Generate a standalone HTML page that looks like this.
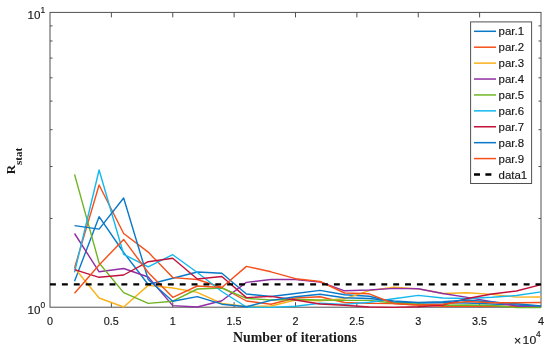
<!DOCTYPE html>
<html><head><meta charset="utf-8"><title>Rstat</title>
<style>html,body{margin:0;padding:0;background:#fff}svg{display:block}text{font-family:"Liberation Sans",Arial,sans-serif;fill:#161616;stroke:#161616;stroke-width:0.15px}.s{font-family:"Liberation Serif","Times New Roman",serif;font-weight:bold;fill:#1a1a1a;stroke:none}</style></head><body>
<svg width="550" height="353" viewBox="0 0 550 353">
<rect width="550" height="353" fill="#fff"/>
<g stroke="#505050" stroke-width="1" fill="none">
<rect x="50.0" y="12.4" width="491.0" height="294.8"/>
<path d="M111.38 307.2 v-5 M111.38 12.4 v5"/>
<path d="M172.75 307.2 v-5 M172.75 12.4 v5"/>
<path d="M234.12 307.2 v-5 M234.12 12.4 v5"/>
<path d="M295.50 307.2 v-5 M295.50 12.4 v5"/>
<path d="M356.88 307.2 v-5 M356.88 12.4 v5"/>
<path d="M418.25 307.2 v-5 M418.25 12.4 v5"/>
<path d="M479.62 307.2 v-5 M479.62 12.4 v5"/>
<path d="M50.0 218.46 h2.5 M541.0 218.46 h-2.5"/>
<path d="M50.0 166.54 h2.5 M541.0 166.54 h-2.5"/>
<path d="M50.0 129.71 h2.5 M541.0 129.71 h-2.5"/>
<path d="M50.0 101.14 h2.5 M541.0 101.14 h-2.5"/>
<path d="M50.0 77.80 h2.5 M541.0 77.80 h-2.5"/>
<path d="M50.0 58.07 h2.5 M541.0 58.07 h-2.5"/>
<path d="M50.0 40.97 h2.5 M541.0 40.97 h-2.5"/>
<path d="M50.0 25.89 h2.5 M541.0 25.89 h-2.5"/>
</g>
<g fill="none" stroke-width="1.4" stroke-linejoin="round" stroke-linecap="butt">
<polyline stroke="#0a78c8" points="74.55,281.2 99.10,216.7 123.65,252.5 148.20,284.5 172.75,278.3 197.30,272.0 221.85,273.3 246.40,294.0 270.95,296.5 295.50,293.5 320.05,290.4 344.60,294.8 369.15,296.3 393.70,302.3 418.25,303.0 442.80,302.8 467.35,303.0 491.90,304.0 516.45,305.0 541.00,306.3"/>
<polyline stroke="#f5501a" points="74.55,268.0 99.10,185.0 123.65,233.5 148.20,252.1 172.75,277.6 197.30,279.5 221.85,287.5 246.40,301.0 270.95,304.3 295.50,298.0 320.05,296.7 344.60,302.5 369.15,303.4 393.70,303.5 418.25,305.0 442.80,306.3 467.35,306.3 491.90,306.0 516.45,306.6 541.00,307.4"/>
<polyline stroke="#fab21a" points="74.55,268.0 99.10,298.0 123.65,307.0 148.20,285.4 172.75,288.0 197.30,292.4 221.85,303.5 246.40,306.5 270.95,306.0 295.50,300.0 320.05,300.7 344.60,298.8 369.15,290.6 393.70,287.3 418.25,288.9 442.80,293.5 467.35,292.7 491.90,294.4 516.45,297.1 541.00,297.0"/>
<polyline stroke="#8f2fa3" points="74.55,233.5 99.10,271.8 123.65,268.5 148.20,277.0 172.75,305.6 197.30,307.0 221.85,300.7 246.40,282.4 270.95,279.5 295.50,279.5 320.05,282.0 344.60,290.8 369.15,290.0 393.70,288.4 418.25,288.7 442.80,293.5 467.35,297.4 491.90,301.8 516.45,306.0 541.00,307.2"/>
<polyline stroke="#6fb424" points="74.55,174.4 99.10,263.0 123.65,292.6 148.20,303.4 172.75,301.2 197.30,289.0 221.85,288.0 246.40,298.4 270.95,300.0 295.50,299.5 320.05,300.0 344.60,300.4 369.15,300.4 393.70,303.0 418.25,304.3 442.80,305.3 467.35,305.0 491.90,305.5 516.45,307.6 541.00,307.5"/>
<polyline stroke="#14b8ee" points="74.55,272.3 99.10,170.0 123.65,254.3 148.20,266.8 172.75,254.7 197.30,272.5 221.85,291.5 246.40,307.0 270.95,307.4 295.50,306.3 320.05,303.3 344.60,304.4 369.15,302.3 393.70,298.8 418.25,295.4 442.80,298.0 467.35,298.5 491.90,297.3 516.45,295.5 541.00,291.9"/>
<polyline stroke="#c2123b" points="74.55,269.6 99.10,277.3 123.65,275.0 148.20,261.7 172.75,258.2 197.30,279.0 221.85,276.5 246.40,297.6 270.95,296.4 295.50,300.0 320.05,304.0 344.60,305.2 369.15,307.0 393.70,307.4 418.25,306.8 442.80,305.0 467.35,298.5 491.90,294.0 516.45,291.0 541.00,284.6"/>
<polyline stroke="#0a78c8" points="74.55,225.6 99.10,229.1 123.65,198.0 148.20,279.5 172.75,301.2 197.30,296.6 221.85,304.2 246.40,306.7 270.95,300.4 295.50,296.7 320.05,294.2 344.60,297.7 369.15,298.5 393.70,301.0 418.25,302.5 442.80,301.8 467.35,300.0 491.90,302.0 516.45,303.8 541.00,306.0"/>
<polyline stroke="#f5501a" points="74.55,293.3 99.10,265.0 123.65,239.4 148.20,272.5 172.75,297.3 197.30,286.0 221.85,287.5 246.40,266.4 270.95,271.8 295.50,278.7 320.05,281.5 344.60,293.0 369.15,293.8 393.70,303.5 418.25,305.0 442.80,304.1 467.35,301.5 491.90,302.8 516.45,302.8 541.00,302.5"/>
</g>
<path d="M50.00 284.3H55.90 M61.90 284.3H67.80 M73.80 284.3H79.70 M85.70 284.3H91.60 M97.60 284.3H103.50 M109.50 284.3H115.40 M121.40 284.3H127.30 M133.30 284.3H139.20 M145.20 284.3H151.10 M156.00 284.3H161.90 M167.86 284.3H173.76 M179.72 284.3H185.62 M191.58 284.3H197.48 M203.44 284.3H209.34 M215.30 284.3H221.20 M227.16 284.3H233.06 M239.02 284.3H244.92 M250.88 284.3H256.78 M262.74 284.3H268.64 M274.60 284.3H280.50 M286.46 284.3H292.36 M298.32 284.3H304.22 M310.18 284.3H316.08 M322.04 284.3H327.94 M333.90 284.3H339.80 M345.76 284.3H351.66 M357.62 284.3H363.52 M369.48 284.3H375.38 M381.34 284.3H387.24 M393.20 284.3H399.10 M405.06 284.3H410.96 M416.92 284.3H422.82 M428.78 284.3H434.68 M440.64 284.3H446.54 M452.50 284.3H458.40 M464.36 284.3H470.26 M476.22 284.3H482.12 M488.08 284.3H493.98 M499.94 284.3H505.84 M511.80 284.3H517.70 M523.66 284.3H529.56 M535.52 284.3H541.00" stroke="#000" stroke-width="2.3" fill="none"/>
<text x="50.00" y="325" font-size="10.8" text-anchor="middle">0</text>
<text x="111.38" y="325" font-size="10.8" text-anchor="middle">0.5</text>
<text x="172.75" y="325" font-size="10.8" text-anchor="middle">1</text>
<text x="234.12" y="325" font-size="10.8" text-anchor="middle">1.5</text>
<text x="295.50" y="325" font-size="10.8" text-anchor="middle">2</text>
<text x="356.88" y="325" font-size="10.8" text-anchor="middle">2.5</text>
<text x="418.25" y="325" font-size="10.8" text-anchor="middle">3</text>
<text x="479.62" y="325" font-size="10.8" text-anchor="middle">3.5</text>
<text x="541.00" y="325" font-size="10.8" text-anchor="middle">4</text>
<text x="27.6" y="314.4" font-size="11.6">10<tspan font-size="8.4" dy="-6.4">0</tspan></text>
<text x="27.6" y="18.9" font-size="11.6">10<tspan font-size="8.4" dy="-6.4">1</tspan></text>
<text x="513.9" y="344.9" font-size="12.4">×</text><text x="522.6" y="343.9" font-size="11.8" textLength="13.6" lengthAdjust="spacingAndGlyphs">10</text><text x="536.1" y="337" font-size="8.4">4</text>
<text class="s" x="295" y="342" font-size="13.9" text-anchor="middle">Number of iterations</text>
<text class="s" transform="translate(15.3,174.3) rotate(-90)" font-size="13">R<tspan font-size="11" dy="7">stat</tspan></text>
<rect x="470.6" y="21.9" width="61" height="161.6" fill="#fff" stroke="#505050" stroke-width="1"/>
<line x1="474" y1="31.30" x2="496" y2="31.30" stroke="#0a78c8" stroke-width="1.5"/>
<text x="498.6" y="35.40" font-size="11.45" fill="#000">par.1</text>
<line x1="474" y1="47.21" x2="496" y2="47.21" stroke="#f5501a" stroke-width="1.5"/>
<text x="498.6" y="51.31" font-size="11.45" fill="#000">par.2</text>
<line x1="474" y1="63.12" x2="496" y2="63.12" stroke="#fab21a" stroke-width="1.5"/>
<text x="498.6" y="67.22" font-size="11.45" fill="#000">par.3</text>
<line x1="474" y1="79.03" x2="496" y2="79.03" stroke="#8f2fa3" stroke-width="1.5"/>
<text x="498.6" y="83.13" font-size="11.45" fill="#000">par.4</text>
<line x1="474" y1="94.94" x2="496" y2="94.94" stroke="#6fb424" stroke-width="1.5"/>
<text x="498.6" y="99.04" font-size="11.45" fill="#000">par.5</text>
<line x1="474" y1="110.85" x2="496" y2="110.85" stroke="#14b8ee" stroke-width="1.5"/>
<text x="498.6" y="114.95" font-size="11.45" fill="#000">par.6</text>
<line x1="474" y1="126.76" x2="496" y2="126.76" stroke="#c2123b" stroke-width="1.5"/>
<text x="498.6" y="130.86" font-size="11.45" fill="#000">par.7</text>
<line x1="474" y1="142.67" x2="496" y2="142.67" stroke="#0a78c8" stroke-width="1.5"/>
<text x="498.6" y="146.77" font-size="11.45" fill="#000">par.8</text>
<line x1="474" y1="158.58" x2="496" y2="158.58" stroke="#f5501a" stroke-width="1.5"/>
<text x="498.6" y="162.68" font-size="11.45" fill="#000">par.9</text>
<path d="M474 174.49 h6 M485.4 174.49 h6" stroke="#000" stroke-width="2.3"/>
<text x="498.6" y="178.59" font-size="11.45" fill="#000">data1</text>
</svg></body></html>
